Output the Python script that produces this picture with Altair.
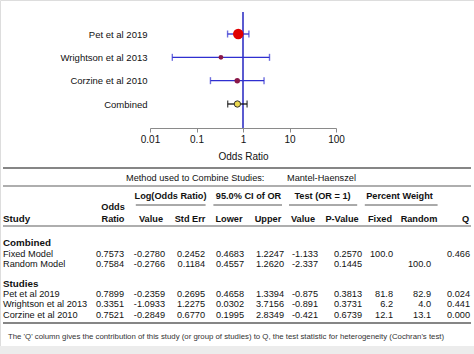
import altair as alt
import pandas as pd

FONT = "Liberation Sans"

# ---------------- data ----------------
studies = ["Pet et al 2019", "Wrightson et al 2013", "Corzine et al 2010"]
study_or = [0.7899, 0.3351, 0.7521]
study_log = [-0.2359, -1.0933, -0.2849]
study_se = [0.2695, 1.2275, 0.6770]
study_lo = [0.4658, 0.0302, 0.1995]
study_hi = [1.3394, 3.7156, 2.8349]
study_z = [-0.875, -0.891, -0.421]
study_p = [0.3813, 0.3731, 0.6739]
study_wf = [81.8, 6.2, 12.1]
study_wr = [82.9, 4.0, 13.1]
study_q = [0.024, 0.441, 0.000]

models = ["Fixed Model", "Random Model"]
model_or = [0.7573, 0.7584]
model_log = [-0.2780, -0.2766]
model_se = [0.2452, 0.1184]
model_lo = [0.4683, 0.4557]
model_hi = [1.2247, 1.2620]
model_z = [-1.133, -2.337]
model_p = [0.2570, 0.1445]
model_wf = [100.0, None]
model_wr = [None, 100.0]
model_q = [0.466, None]

combined_label = "Combined"
axis_ticks = [0.01, 0.1, 1, 10, 100]

col_headers_1 = ["", "Odds", "", "", "", "", "", "", "", "", ""]
col_headers_2 = ["Study", "Ratio", "Value", "Std Err", "Lower", "Upper",
                 "Value", "P-Value", "Fixed", "Random", "Q"]
group_headers = ["Log(Odds Ratio)", "95.0% CI of OR", "Test (OR = 1)", "Percent Weight"]
group_start = [2, 4, 6, 8]
group_end = [3, 5, 7, 9]
method_texts = ["Method used to Combine Studies:", "Mantel-Haenszel"]
footnote = ("The 'Q' column gives the contribution of this study (or group of studies) "
            "to Q, the test statistic for heterogeneity (Cochran's test)")

# ---------------- layout scales ----------------
W, H = 474, 354
num_right = [3, 124, 165, 205, 244, 284, 318, 362, 393, 431, 470]
head_center = [3, 113, 151, 190, 229, 268, 303, 342, 380, 419, 465.5]
row_y = [178, 196, 207, 218.5, 243, 253.5, 264, 283.5, 293.5, 304, 314.5, 337]

def num_x(field):
    return alt.X(field, type="quantitative",
                 scale=alt.Scale(domain=list(range(11)), range=num_right, zero=False, nice=False),
                 axis=None)

def head_x(field):
    return alt.X(field, type="quantitative",
                 scale=alt.Scale(domain=list(range(11)), range=head_center, zero=False, nice=False),
                 axis=None)

def row_yenc(field="row"):
    return alt.Y(field, type="quantitative",
                 scale=alt.Scale(domain=list(range(12)), range=row_y, zero=False, nice=False),
                 axis=None)

# ---------------- forest plot ----------------
forest_df = pd.DataFrame({"label": studies, "or": study_or, "lo": study_lo,
                          "hi": study_hi, "w": study_wf})
comb_df = pd.DataFrame({"label": [combined_label], "or": [model_or[0]],
                        "lo": [model_lo[0]], "hi": [model_hi[0]]})

xs = alt.Scale(type="log", domain=[0.01, 100], range=[150, 336])
ys = alt.Scale(type="point", domain=studies + [combined_label], range=[34, 104], padding=0)

x_axis = alt.Axis(values=axis_ticks, format="~g", orient="bottom", offset=-226, grid=False,
                  domainColor="#8a8a8a", domainWidth=1.2, tickColor="#8a8a8a", tickSize=4,
                  labelFontSize=10, labelColor="#111", labelFont=FONT, labelFlush=False,
                  labelOverlap=False, labelPadding=2,
                  title="Odds Ratio", titleFontSize=10, titleFontWeight="normal",
                  titleFont=FONT, titleColor="#111", titlePadding=7)
y_axis = alt.Axis(orient="left", offset=-150, domain=False, ticks=False, labelPadding=3,
                  labelFontSize=9.5, labelFont=FONT, labelColor="#111", title=None, grid=False)

def fx(field):
    return alt.X(field, type="quantitative", scale=xs, axis=x_axis)

def fy():
    return alt.Y("label", type="nominal", scale=ys, axis=y_axis)

vline = alt.Chart(forest_df).mark_rule(color="#5b5bd0", strokeWidth=2).encode(
    x=alt.datum(1, scale=xs, axis=x_axis, type="quantitative"),
    y=alt.value(12), y2=alt.value(128))

ci = alt.Chart(forest_df).mark_rule(color="#2f2fd0", strokeWidth=1.3).encode(
    x=fx("lo"), x2="hi", y=fy())
cap_lo = alt.Chart(forest_df).mark_tick(color="#2f2fd0", size=7, thickness=1.4).encode(
    x=fx("lo"), y=fy())
cap_hi = alt.Chart(forest_df).mark_tick(color="#2f2fd0", size=7, thickness=1.4).encode(
    x=fx("hi"), y=fy())
pts = alt.Chart(forest_df).mark_circle(opacity=1).encode(
    x=fx("or"), y=fy(),
    color=alt.Color("w", type="quantitative",
                    scale=alt.Scale(type="threshold", domain=[50], range=["#8a1848", "#e00000"]),
                    legend=None),
    size=alt.Size("w", type="quantitative", scale=alt.Scale(domain=[0, 100], range=[16, 130]),
                  legend=None))

c_ci = alt.Chart(comb_df).mark_rule(color="#111", strokeWidth=1.3).encode(
    x=fx("lo"), x2="hi", y=fy())
c_lo = alt.Chart(comb_df).mark_tick(color="#111", size=7, thickness=1.4).encode(x=fx("lo"), y=fy())
c_hi = alt.Chart(comb_df).mark_tick(color="#111", size=7, thickness=1.4).encode(x=fx("hi"), y=fy())
c_pt = alt.Chart(comb_df).mark_point(filled=True, fill="#ecd84e", stroke="#333",
                                     strokeWidth=1, size=40, opacity=1).encode(
    x=fx("or"), y=fy())

forest = alt.layer(vline, ci, cap_lo, cap_hi, pts, c_ci, c_lo, c_hi, c_pt)

# ---------------- table ----------------
def fmt(v, d):
    return "" if v is None else f"{v:.{d}f}"

cells = []
def add_row(row, name, vals):
    cells.append({"row": row, "col": 0, "text": name})
    for j, (v, d) in enumerate(vals, start=1):
        t = fmt(v, d)
        if t:
            cells.append({"row": row, "col": j, "text": t})

for i, m in enumerate(models):
    add_row(5 + i, m, [(model_or[i], 4), (model_log[i], 4), (model_se[i], 4), (model_lo[i], 4),
                       (model_hi[i], 4), (model_z[i], 3), (model_p[i], 4), (model_wf[i], 1),
                       (model_wr[i], 1), (model_q[i], 3)])
for i, s in enumerate(studies):
    add_row(8 + i, s, [(study_or[i], 4), (study_log[i], 4), (study_se[i], 4), (study_lo[i], 4),
                       (study_hi[i], 4), (study_z[i], 3), (study_p[i], 4), (study_wf[i], 1),
                       (study_wr[i], 1), (study_q[i], 3)])
cells_df = pd.DataFrame(cells)
names_df = cells_df[cells_df["col"] == 0]
nums_df = cells_df[cells_df["col"] > 0]

txt = dict(font=FONT, fontSize=9.2, color="#111", baseline="middle")

t_names = alt.Chart(names_df).mark_text(align="left", **txt).encode(
    x=num_x("col"), y=row_yenc(), text="text:N")
t_nums = alt.Chart(nums_df).mark_text(align="right", **txt).encode(
    x=num_x("col"), y=row_yenc(), text="text:N")

sections_df = pd.DataFrame({"row": [4, 7], "col": [0, 0], "text": [combined_label, "Studies"]})
t_sections = alt.Chart(sections_df).mark_text(align="left", fontWeight="bold",
                                              **{**txt, "fontSize": 9.8}).encode(
    x=num_x("col"), y=row_yenc(), text="text:N")

heads = []
for j, t in enumerate(col_headers_1):
    if t:
        heads.append({"row": 2, "col": j, "text": t})
for j, t in enumerate(col_headers_2):
    if j > 0:
        heads.append({"row": 3, "col": j, "text": t})
heads_df = pd.DataFrame(heads)
t_heads = alt.Chart(heads_df).mark_text(align="center", fontWeight="bold", **txt).encode(
    x=head_x("col"), y=row_yenc(), text="text:N")
study_head_df = pd.DataFrame({"row": [3], "col": [0], "text": [col_headers_2[0]]})
t_study_head = alt.Chart(study_head_df).mark_text(align="left", fontWeight="bold",
                                                  **{**txt, "fontSize": 9.8}).encode(
    x=num_x("col"), y=row_yenc(), text="text:N")

groups_df = pd.DataFrame({"text": group_headers, "c0": group_start, "c1": group_end, "row": 1})
t_groups = alt.Chart(groups_df).transform_calculate(
    cm="(datum.c0 + datum.c1) / 2").mark_text(align="center", fontWeight="bold", **txt).encode(
    x=head_x("cm"), y=row_yenc(), text="text:N")
u_groups = alt.Chart(groups_df).transform_calculate(
    a="datum.c0 - 0.4", b="datum.c1 + 0.4").mark_rule(color="#555", strokeWidth=1).encode(
    x=head_x("a"), x2="b", y=alt.value(205))

method_df = pd.DataFrame({"text": method_texts, "row": 0})
t_method = alt.Chart(method_df).mark_text(align="left", **txt).encode(
    x=alt.X("text", type="nominal",
            scale=alt.Scale(type="point", domain=method_texts, range=[126, 287], padding=0),
            axis=None),
    y=row_yenc(), text="text:N")

foot_df = pd.DataFrame({"text": [footnote], "row": [11]})
t_foot = alt.Chart(foot_df).mark_text(align="left", font=FONT, fontSize=7.8,
                                      color="#333", baseline="middle").encode(
    x=alt.value(8), y=row_yenc(), text="text:N")

line_df = pd.DataFrame({"k": [0]})
def hline(yv, w=1.5, c="#5e5e5e"):
    return alt.Chart(line_df).mark_rule(color=c, strokeWidth=w).encode(
        x=alt.value(3), x2=alt.value(471), y=alt.value(yv))

band = alt.Chart(line_df).mark_rect(color="#ececec").encode(
    x=alt.value(0), x2=alt.value(W), y=alt.value(346), y2=alt.value(H))

chart = alt.layer(
    forest,
    hline(168), hline(186, 1.2), hline(226, 1.2), hline(323, 1.5),
    band,
    t_method, t_groups, u_groups, t_heads, t_study_head,
    t_sections, t_names, t_nums, t_foot,
).resolve_scale(x="independent", y="independent", size="independent",
                color="independent").properties(
    width=W, height=H, padding=0, autosize=alt.AutoSizeParams(type="none")
).configure_view(stroke=None).configure(background="white")

chart.save("out.html", embed_options={"renderer": "svg", "actions": False})
